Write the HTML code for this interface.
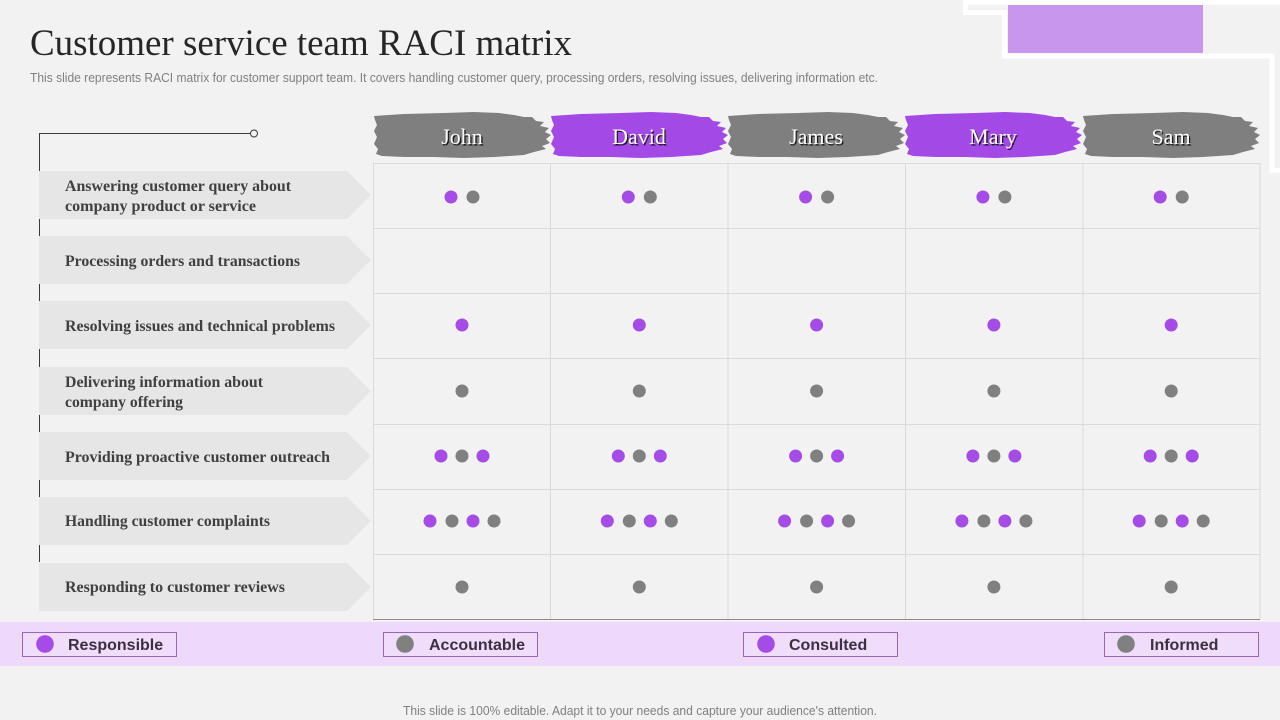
<!DOCTYPE html>
<html>
<head>
<meta charset="utf-8">
<style>
  html,body{margin:0;padding:0;background:#f2f2f2;}
  svg{display:block;}
</style>
</head>
<body>
<svg width="1280" height="720" viewBox="0 0 1280 720" xmlns="http://www.w3.org/2000/svg">
  <defs>
    <path id="brush" d="M0,4 L30,2 L70,1 L100,0 L125,1 L140,3 L150,5 L158,5 L162,9 L170,10 L166,14 L175,16 L171,20 L177,23 L172,27 L176,31 L168,34 L172,37 L160,40 L150,43 L120,45 L90,46 L60,45 L30,45 L8,44 L2,42 L4,37 L0,32 L3,25 L0,19 L3,13 L1,8 Z"/>
  </defs>
  <rect x="0" y="0" width="1280" height="720" fill="#f2f2f2"/>

  <!-- top-right decoration -->
  <rect x="963" y="0" width="317" height="5" fill="#ffffff"/>
  <polyline points="965.5,0 965.5,12.5 1004.5,12.5 1004.5,56 1272,56 1272,170.5 1282,170.5" fill="none" stroke="#ffffff" stroke-width="5"/>
  <rect x="1008" y="5" width="195" height="48" fill="#c896ec"/>

  <!-- title -->
  <text x="30" y="55" font-family="Liberation Serif, serif" font-size="37" fill="#262626" textLength="542" lengthAdjust="spacingAndGlyphs">Customer service team RACI matrix</text>
  <text x="30" y="82" font-family="Liberation Sans, sans-serif" font-size="13" fill="#7f7f7f" textLength="848" lengthAdjust="spacingAndGlyphs">This slide represents RACI matrix for customer support team. It covers handling customer query, processing orders, resolving issues, delivering information etc.</text>

  <!-- left connector -->
  <line x1="39.5" y1="133" x2="39.5" y2="562" stroke="#3a3a3a" stroke-width="1"/>
  <line x1="39.5" y1="133.5" x2="251" y2="133.5" stroke="#3a3a3a" stroke-width="1"/>
  <circle cx="254" cy="133.5" r="3.5" fill="#f2f2f2" stroke="#3a3a3a" stroke-width="1"/>

  <!-- label arrows -->
  <g fill="#e6e6e6">
    <polygon points="39,171 347,171 371,195 347,219 39,219"/>
    <polygon points="39,236 347,236 371,260 347,284 39,284"/>
    <polygon points="39,301 347,301 371,325 347,349 39,349"/>
    <polygon points="39,367 347,367 371,391 347,415 39,415"/>
    <polygon points="39,432 347,432 371,456 347,480 39,480"/>
    <polygon points="39,497 347,497 371,521 347,545 39,545"/>
    <polygon points="39,563 347,563 371,587 347,611 39,611"/>
  </g>
  <g font-family="Liberation Serif, serif" font-size="16" font-weight="bold" fill="#404040">
    <text x="65" y="191" textLength="226" lengthAdjust="spacingAndGlyphs">Answering customer query about</text>
    <text x="65" y="211" textLength="191" lengthAdjust="spacingAndGlyphs">company product or service</text>
    <text x="65" y="266" textLength="235" lengthAdjust="spacingAndGlyphs">Processing orders and transactions</text>
    <text x="65" y="331" textLength="270" lengthAdjust="spacingAndGlyphs">Resolving issues and technical problems</text>
    <text x="65" y="387" textLength="198" lengthAdjust="spacingAndGlyphs">Delivering information about</text>
    <text x="65" y="407" textLength="118" lengthAdjust="spacingAndGlyphs">company offering</text>
    <text x="65" y="462" textLength="265" lengthAdjust="spacingAndGlyphs">Providing proactive customer outreach</text>
    <text x="65" y="526" textLength="205" lengthAdjust="spacingAndGlyphs">Handling customer complaints</text>
    <text x="65" y="592" textLength="220" lengthAdjust="spacingAndGlyphs">Responding to customer reviews</text>
  </g>

  <!-- grid -->
  <g stroke="#dadada" stroke-width="1">
    <line x1="373.5" y1="163" x2="373.5" y2="619"/>
    <line x1="550.5" y1="163" x2="550.5" y2="619"/>
    <line x1="728" y1="163" x2="728" y2="619"/>
    <line x1="905.5" y1="163" x2="905.5" y2="619"/>
    <line x1="1083" y1="163" x2="1083" y2="619"/>
    <line x1="1260" y1="163" x2="1260" y2="619"/>
    <line x1="373" y1="163.5" x2="1260" y2="163.5"/>
    <line x1="373" y1="228.5" x2="1260" y2="228.5"/>
    <line x1="373" y1="293.5" x2="1260" y2="293.5"/>
    <line x1="373" y1="358.5" x2="1260" y2="358.5"/>
    <line x1="373" y1="424.5" x2="1260" y2="424.5"/>
    <line x1="373" y1="489.5" x2="1260" y2="489.5"/>
    <line x1="373" y1="554.5" x2="1260" y2="554.5"/>
  </g>
  <line x1="373" y1="619.5" x2="1260" y2="619.5" stroke="#8c8c8c" stroke-width="1"/>

  <!-- header brushes -->
  <use href="#brush" x="374" y="112" fill="#7f7f7f"/>
  <use href="#brush" x="551" y="112" fill="#a349e6"/>
  <use href="#brush" x="728" y="112" fill="#7f7f7f"/>
  <use href="#brush" x="905" y="112" fill="#a349e6"/>
  <use href="#brush" x="1083" y="112" fill="#7f7f7f"/>
  <g font-family="Liberation Serif, serif" font-size="22" text-anchor="middle">
    <g fill="#1a1a1a" transform="translate(1.3,1.3)">
      <text x="462" y="144">John</text>
      <text x="639" y="144">David</text>
      <text x="816" y="144">James</text>
      <text x="993" y="144">Mary</text>
      <text x="1171" y="144">Sam</text>
    </g>
    <g fill="#ffffff">
      <text x="462" y="144">John</text>
      <text x="639" y="144">David</text>
      <text x="816" y="144">James</text>
      <text x="993" y="144">Mary</text>
      <text x="1171" y="144">Sam</text>
    </g>
  </g>

  <!-- dots -->
  <g id="col1">
    <circle cx="451" cy="197" r="6.5" fill="#a64ce6"/><circle cx="473" cy="197" r="6.5" fill="#808080"/>
    <circle cx="462" cy="325" r="6.5" fill="#a64ce6"/>
    <circle cx="462" cy="391" r="6.5" fill="#808080"/>
    <circle cx="441" cy="456" r="6.5" fill="#a64ce6"/><circle cx="462" cy="456" r="6.5" fill="#808080"/><circle cx="483" cy="456" r="6.5" fill="#a64ce6"/>
    <circle cx="430" cy="521" r="6.5" fill="#a64ce6"/><circle cx="452" cy="521" r="6.5" fill="#808080"/><circle cx="473" cy="521" r="6.5" fill="#a64ce6"/><circle cx="494" cy="521" r="6.5" fill="#808080"/>
    <circle cx="462" cy="587" r="6.5" fill="#808080"/>
  </g>
  <use href="#col1" x="177.3"/>
  <use href="#col1" x="354.6"/>
  <use href="#col1" x="531.9"/>
  <use href="#col1" x="709.2"/>

  <!-- legend -->
  <rect x="0" y="622" width="1280" height="44" fill="#efd9fb"/>
  <g fill="#f0dcfb" stroke="#9a63c0" stroke-width="1">
    <rect x="22.5" y="632.5" width="154" height="24"/>
    <rect x="383.5" y="632.5" width="154" height="24"/>
    <rect x="743.5" y="632.5" width="154" height="24"/>
    <rect x="1104.5" y="632.5" width="154" height="24"/>
  </g>
  <circle cx="45" cy="644" r="8.8" fill="#a64ce6"/>
  <circle cx="405" cy="644" r="8.8" fill="#808080"/>
  <circle cx="766" cy="644" r="8.8" fill="#a64ce6"/>
  <circle cx="1126" cy="644" r="8.8" fill="#808080"/>
  <g font-family="Liberation Sans, sans-serif" font-size="16" font-weight="bold" fill="#3a3040">
    <text x="68" y="650">Responsible</text>
    <text x="429" y="650">Accountable</text>
    <text x="789" y="650">Consulted</text>
    <text x="1150" y="650">Informed</text>
  </g>

  <!-- footer -->
  <text x="403" y="715" font-family="Liberation Sans, sans-serif" font-size="13" fill="#7f7f7f" textLength="474" lengthAdjust="spacingAndGlyphs">This slide is 100% editable. Adapt it to your needs and capture your audience's attention.</text>
</svg>
</body>
</html>
